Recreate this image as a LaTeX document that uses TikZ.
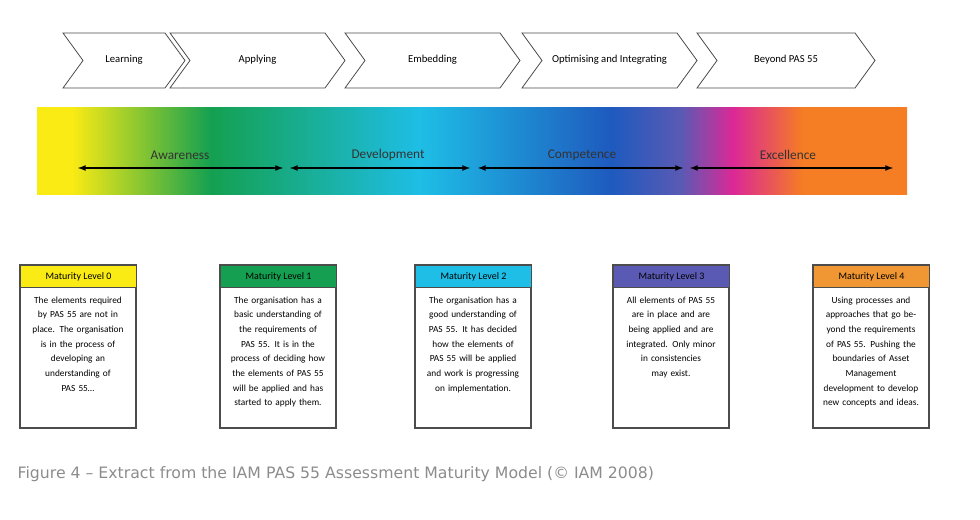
\documentclass[tikz,border=0pt]{standalone}
\usepackage{fontspec}
\setmainfont{Carlito}
\newfontfamily\capfont{DejaVu Sans}
\definecolor{lgreen}{RGB}{20,160,80}
\definecolor{lcyan}{RGB}{30,190,230}
\definecolor{lblue}{RGB}{90,90,180}
\definecolor{lorange}{RGB}{240,150,50}
\definecolor{lyellow}{RGB}{250,235,20}
\definecolor{gblue}{RGB}{30,90,190}
\definecolor{gmag}{RGB}{220,40,150}
\definecolor{gorange}{RGB}{245,125,35}
\pgfdeclarehorizontalshading{maturity}{100bp}{
 color(0bp)=(lyellow); color(25bp)=(lyellow); color(27bp)=(lyellow);
 color(35bp)=(lgreen); color(47bp)=(lcyan); color(58bp)=(gblue);
 color(62bp)=(lblue); color(65bp)=(gmag); color(69bp)=(gorange);
 color(75bp)=(gorange); color(100bp)=(gorange)}
\tikzset{
 chev/.style={draw=black!70, fill=white, line width=0.6pt},
 chevtext/.style={font=\fontsize{8}{9}\selectfont},
 band/.style={font=\fontsize{10}{12}\selectfont, text=black!80},
 span/.style={<->, >=latex, line width=1pt},
 hdr/.style={draw=black!70, line width=0.8pt, minimum width=116\px, minimum height=22\px, inner sep=0pt, font=\fontsize{7.5}{8}\selectfont, anchor=north west},
 body/.style={draw=black!70, line width=0.8pt, anchor=north west},
 btext/.style={font=\fontsize{7}{11}\selectfont, align=center, text width=98\px, anchor=north}
}
\newlength{\px}\setlength{\px}{0.0264cm}
\begin{document}
\begin{tikzpicture}[x=0.0264cm,y=-0.0264cm]
\useasboundingbox (0,0) rectangle (980,520);
\foreach \a/\b/\t/\n in {63/185/Learning/c1,170/345/Applying/c2,345/520/Embedding/c3,522/697/Optimising and Integrating/c4,697/875/Beyond PAS 55/c5}{
 \draw[chev] (\a,33) -- (\b-20,33) -- (\b,60.5) -- (\b-20,88) -- (\a,88) -- (\a+20,60.5) -- cycle;
 \node[chevtext] (\n) at ({(\a+\b)/2},60) {\t};
}
\shade[shading=maturity] (37,108) rectangle (907,195);
\foreach \x/\t/\n in {180/Awareness/aw,388/Development/dv,582/Competence/cp,788/Excellence/ex}
 \node[band] (\n) at (\x,155) {\t};
\foreach \a/\b/\n in {78/283/s1,290/470/s2,478/683/s3,690/893/s4}{
 \coordinate (\n a) at (\a,168); \coordinate (\n b) at (\b,168);
 \draw[span] (\n a) -- (\n b);
}
\foreach \x/\c/\l/\t/\n in {
 20/lyellow/0/{The elements required\\by PAS 55 are not in\\place.  The organisation\\is in the process of\\developing an\\understanding of\\PAS 55\dots}/m0,
 220/lgreen/1/{The organisation has a\\basic understanding of\\the requirements of\\PAS 55.  It is in the\\process of deciding how\\the elements of PAS 55\\will be applied and has\\started to apply them.}/m1,
 415/lcyan/2/{The organisation has a\\good understanding of\\PAS 55.  It has decided\\how the elements of\\PAS 55 will be applied\\and work is progressing\\on implementation.}/m2,
 613/lblue/3/{All elements of PAS 55\\are in place and are\\being applied and are\\integrated.  Only minor\\in consistencies\\may exist.}/m3,
 813/lorange/4/{Using processes and\\approaches that go be-\\yond the requirements\\of PAS 55.  Pushing the\\boundaries of Asset\\Management\\development to develop\\new concepts and ideas.}/m4}{
 \draw[body] (\x,265) rectangle (\x+116,428);
 \node[hdr, fill=\c] (\n h) at (\x,265) {Maturity Level \l};
 \node[btext] (\n t) at (\x+58,292) {\t};
}
\node[anchor=west, text=black!45, font=\capfont\fontsize{11.8}{13}\selectfont] (cap) at (13,474) {Figure 4 – Extract from the IAM PAS 55 Assessment Maturity Model (© IAM 2008)};
\end{tikzpicture}
\end{document}
